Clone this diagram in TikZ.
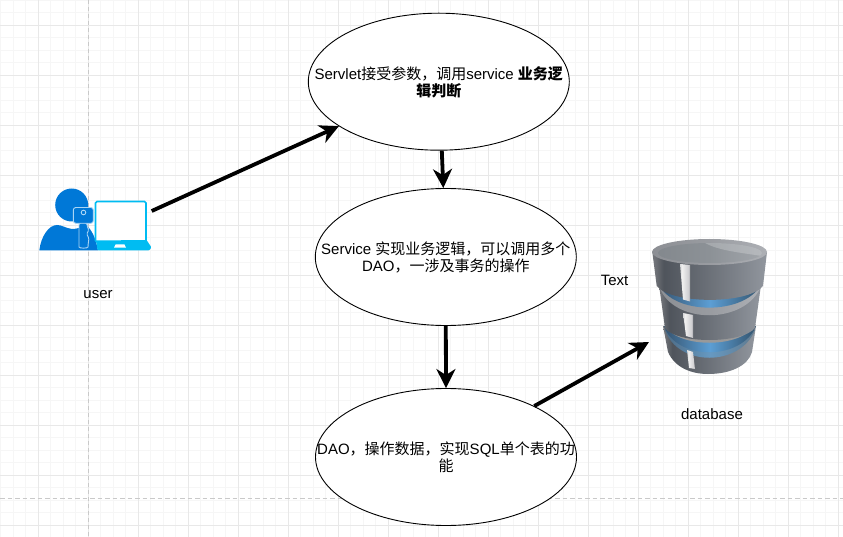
\documentclass[tikz,border=0pt]{standalone}
\usepackage{fontspec}
\setmainfont{Liberation Sans}
\newfontfamily\cjk{Noto Sans CJK SC}
\usetikzlibrary{arrows.meta,shapes.geometric}
\newcommand\zh[1]{{\cjk #1}}
\pgfdeclarehorizontalshading{dbbody}{100bp}{
  rgb(0bp)=(0.42,0.43,0.45);
  rgb(14bp)=(0.56,0.57,0.59);
  rgb(26bp)=(0.44,0.45,0.47);
  rgb(30bp)=(0.31,0.33,0.36);
  rgb(60bp)=(0.48,0.50,0.53);
  rgb(100bp)=(0.72,0.74,0.77)}
\pgfdeclarehorizontalshading{dbrim}{100bp}{
  rgb(0bp)=(0.50,0.51,0.53);
  rgb(50bp)=(0.60,0.61,0.63);
  rgb(100bp)=(0.76,0.77,0.79)}
\pgfdeclarehorizontalshading{dbtop}{100bp}{
  rgb(0bp)=(0.48,0.50,0.52);
  rgb(50bp)=(0.55,0.57,0.59);
  rgb(100bp)=(0.72,0.73,0.75)}
\pgfdeclarehorizontalshading{dbblue}{100bp}{
  rgb(0bp)=(0.20,0.21,0.23);
  rgb(20bp)=(0.18,0.27,0.36);
  rgb(50bp)=(0.36,0.62,0.83);
  rgb(78bp)=(0.18,0.29,0.38);
  rgb(100bp)=(0.22,0.23,0.25)}
\pgfdeclarehorizontalshading{dbglow}{100bp}{
  rgb(0bp)=(0.33,0.35,0.38);
  rgb(25bp)=(0.30,0.42,0.52);
  rgb(50bp)=(0.40,0.60,0.76);
  rgb(75bp)=(0.38,0.48,0.56);
  rgb(100bp)=(0.50,0.52,0.55)}
\pgfdeclarehorizontalshading{dbstrip}{100bp}{
  rgb(0bp)=(0.62,0.63,0.65);
  rgb(35bp)=(0.94,0.94,0.94);
  rgb(65bp)=(0.82,0.82,0.83);
  rgb(100bp)=(0.32,0.33,0.36)}
\definecolor{gridminor}{HTML}{F6F6F6}
\definecolor{gridmajor}{HTML}{E8E8E8}
\definecolor{pagedash}{HTML}{C9C9C9}
\definecolor{personblue}{HTML}{0078D7}
\definecolor{lapblue}{HTML}{00BCF2}
\definecolor{keyedge}{HTML}{A9D5F5}
\tikzset{
  bubble/.style={ellipse,draw=black,line width=0.9pt,fill=white,inner xsep=-60pt,inner ysep=0pt,
    minimum width=261pt,minimum height=137pt,align=center,text depth=1pt,
    font=\fontsize{15}{17}\selectfont},
  flow/.style={line width=3.8pt,black,-{Stealth[length=19pt,width=19pt,inset=6pt]}},
  caption/.style={inner sep=0pt,font=\fontsize{15}{17}\selectfont}
}
\begin{document}
\begin{tikzpicture}[x=1pt,y=-1pt]
\useasboundingbox (0,0) rectangle (843,537);
\fill[white] (0,0) rectangle (843,537);
% grid
\foreach \k in {0,...,67}{\draw[gridminor,line width=0.8pt] ({0.5+12.5*\k},0) -- ({0.5+12.5*\k},537);}
\foreach \k in {0,...,43}{\draw[gridminor,line width=0.8pt] (0,{0+12.5*\k}) -- (843,{0+12.5*\k});}
\foreach \k in {0,...,16}{\draw[gridmajor,line width=0.9pt] ({38+50*\k},0) -- ({38+50*\k},537);}
\foreach \k in {0,...,10}{\draw[gridmajor,line width=0.9pt] (0,{25+50*\k}) -- (843,{25+50*\k});}
\draw[pagedash,line width=1.4pt,dash pattern=on 4pt off 3pt] (88.5,0) -- (88.5,537);
\draw[pagedash,line width=0.9pt,dash pattern=on 4.5pt off 3pt] (0,498) -- (843,498);
% user icon
\fill[personblue] (71.7,205) circle[radius=16.5];
\fill[personblue] (39.3,250.5) .. controls (41,236) and (49,225) .. (57,225)
  .. controls (62,225) and (65,228) .. (72,229) .. controls (78,229) and (82,227) .. (85,225)
  .. controls (92,228) and (96,240) .. (98,250.5) -- cycle;
\draw[lapblue,line width=1.7pt,fill=white,rounded corners=1.5pt] (95.5,201.5) rectangle (146,242);
\fill[lapblue,rounded corners=1pt] (96,240.5) -- (146.5,240) -- (151.5,247.5) -- (149,250.5) -- (97.7,250.5) -- cycle;
\fill[white] (115.5,244.5) -- (124.5,244.5) -- (126,247.7) -- (114,247.7) -- cycle;
\draw[keyedge,line width=0.9pt,fill=personblue,rounded corners=1.5pt]
  (79,223) -- (79,245.5) .. controls (79,248.5) and (88,248.5) .. (88,245.5)
  -- (89,238) -- (86.5,234) -- (89,230) -- (87,226) -- (87,223) -- cycle;
\draw[keyedge,line width=0.9pt,fill=personblue,rounded corners=2.5pt] (73.3,207.5) rectangle (93.3,223.3);
\draw[keyedge,line width=0.9pt,fill=personblue] (83.5,212.5) circle[radius=2.3];
% database icon
\shade[shading=dbbody] (663,326) -- (668,352) .. controls (675,368) and (692,374) .. (708,374)
  .. controls (730,374) and (748,366) .. (752,352) -- (756,326) -- cycle;
\shade[shading=dbglow] (665,330) .. controls (678,367) and (740,367) .. (755,330) -- cycle;
\shade[shading=dbblue] (664,326) .. controls (676,361) and (742,361) .. (756,326) -- cycle;
\fill[gray!80!white] (664,324) .. controls (676,349) and (742,349) .. (756,324) -- cycle;
\shade[shading=dbstrip] (687,350) -- (693,352) -- (695,369) -- (689,368) -- cycle;
\shade[shading=dbbody] (659,285) -- (665,328) .. controls (676,344) and (742,344) .. (755,328) -- (761,285) -- cycle;
\shade[shading=dbstrip] (683,313) -- (693,315) -- (693,338) -- (686,336) -- cycle;
\shade[shading=dbrim] (659,286) .. controls (672,325) and (746,325) .. (761,286) -- cycle;
\shade[shading=dbblue] (659,284) .. controls (672,315.5) and (746,315.5) .. (761,284) -- cycle;
\shade[shading=dbbody] (652.3,252) -- (656.7,286) .. controls (672,304.5) and (748,304.5) .. (763,286) -- (767,252) -- cycle;
\shade[shading=dbstrip] (680,264) -- (690,265) -- (690,301.5) -- (683,299.5) -- cycle;
\shade[shading=dbrim] (709.5,252) ellipse[x radius=57.5,y radius=13];
\begin{scope}
  \clip (710,253) ellipse[x radius=52,y radius=10];
  \shade[shading=dbtop] (658,243) rectangle (762,263);
  \fill[white,opacity=0.22] (705,243) .. controls (718,250) and (735,252) .. (762,256) -- (762,243) -- cycle;
\end{scope}
% nodes
\node[bubble] (servlet) at (438.8,81.7) {Servlet\zh{接受参数，调用}service \zh{\bfseries 业务逻}\\\zh{\bfseries 辑判断}};
\node[bubble] (service) at (445.8,257) {Service \zh{实现业务逻辑，可以调用多个}\\DAO\zh{，一涉及事务的操作}};
\node[bubble] (dao) at (446,457) {DAO\zh{，操作数据，实现}SQL\zh{单个表的功}\\\zh{能}};
\node[caption] (userlabel) at (98,294.5) {user};
\node[caption] (textlabel) at (614.5,280) {Text};
\node[caption] (dblabel) at (712,414) {database};
\coordinate (userout) at (151.7,211);
\coordinate (dbin) at (649,342);
% connectors
\draw[flow] (userout) -- (servlet.204);
\draw[flow] ([xshift=3pt]servlet.south) -- ([xshift=-2.5pt]service.north);
\draw[flow] (service.south) -- (dao.north);
\draw[flow] (dao.30) -- (dbin);
\end{tikzpicture}
\end{document}
